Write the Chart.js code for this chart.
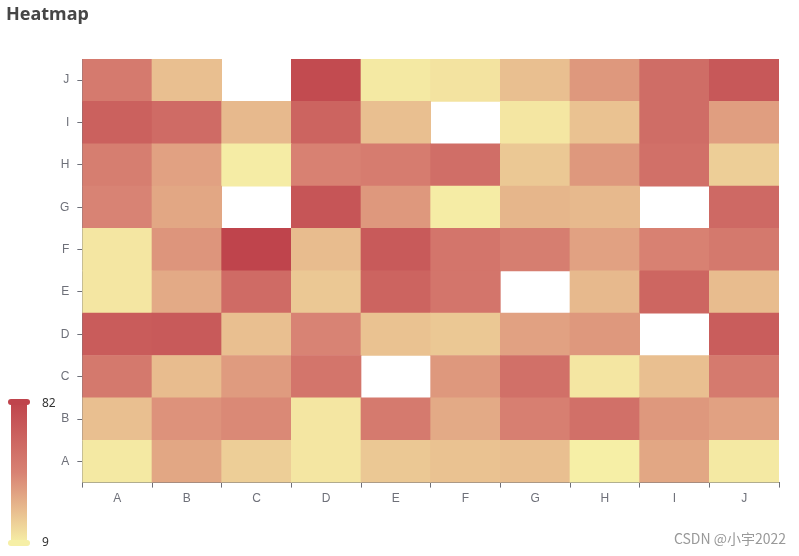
<!DOCTYPE html>
<html>
<head>
<meta charset="utf-8">
<script src="https://cdn.jsdelivr.net/npm/chart.js@4/dist/chart.umd.min.js"></script>
<style>
  body { margin: 0; background: #fff; }
  #wrap { width: 799px; height: 556px; }
</style>
</head>
<body>
<div id="wrap"><canvas id="heat"></canvas></div>
<script>
// categorias y valores (null = celda vacia)
const xLabels = ['A', 'B', 'C', 'D', 'E', 'F', 'G', 'H', 'I', 'J'];
const yLabels = ['A', 'B', 'C', 'D', 'E', 'F', 'G', 'H', 'I', 'J'];
const rowA = [11, 33, 20, 12, 22, 24, 25, 9, 33, 11];
const rowB = [25, 40, 43, 12, 50, 32, 47, 56, 38, 35];
const rowC = [51, 26, 37, 53, null, 38, 56, 12, 25, 50];
const rowD = [68, 69, 25, 45, 24, 22, 35, 38, null, 67];
const rowE = [12, 32, 59, 22, 63, 53, null, 27, 62, 26];
const rowF = [12, 39, 82, 26, 69, 53, 48, 35, 46, 51];
const rowG = [45, 33, null, 72, 38, 10, 28, 27, null, 60];
const rowH = [48, 35, 10, 46, 49, 57, 22, 38, 56, 20];
const rowI = [65, 59, 27, 63, 25, null, 12, 24, 58, 36];
const rowJ = [50, 25, null, 78, 11, 13, 25, 38, 58, 70];
const rows = [rowA, rowB, rowC, rowD, rowE, rowF, rowG, rowH, rowI, rowJ];
const minVal = 9, maxVal = 82;

// escala de color tipo visualMap
const stops = [[246, 239, 166], [216, 130, 115], [191, 68, 76]];
function colorFor(v) {
    if (v === null) return 'rgba(0,0,0,0)';
    let t = (v - minVal) / (maxVal - minVal);
    t = Math.max(0, Math.min(1, t));
    const s = t < 0.5 ? 0 : 1;
    const f = t < 0.5 ? t * 2 : (t - 0.5) * 2;
    const a = stops[s], b = stops[s + 1];
    const c = a.map((x, i) => Math.round(x + (b[i] - x) * f));
    return `rgb(${c[0]},${c[1]},${c[2]})`;
}

const datasets = rows.map((row, i) => ({
    label: yLabels[i],
    data: row.map(() => 1),
    backgroundColor: row.map(colorFor),
    borderWidth: 0,
    barPercentage: 1,
    categoryPercentage: 1
}));

// titulo, visualMap y marca de agua
const decor = {
    id: 'decor',
    afterDraw(chart) {
        const ctx = chart.ctx;
        ctx.save();
        ctx.fillStyle = '#464646';
        ctx.font = 'bold 18px "Microsoft YaHei", "Noto Sans", sans-serif';
        ctx.textBaseline = 'top';
        ctx.fillText('Heatmap', 6, 6);

        const x = 8, y0 = 402, y1 = 543, w = 22;
        const g = ctx.createLinearGradient(0, y0, 0, y1);
        g.addColorStop(0, 'rgb(191,68,76)');
        g.addColorStop(0.5, 'rgb(216,130,115)');
        g.addColorStop(1, 'rgb(246,239,166)');
        ctx.fillStyle = g;
        ctx.fillRect(x + 3, y0, w - 6, y1 - y0);
        ctx.fillStyle = 'rgb(191,68,76)';
        ctx.beginPath(); ctx.roundRect(x, y0 - 3, w, 6, 3); ctx.fill();
        ctx.fillStyle = 'rgb(246,239,166)';
        ctx.beginPath(); ctx.roundRect(x, y1 - 3, w, 6, 3); ctx.fill();

        ctx.fillStyle = '#333';
        ctx.font = '12px "Noto Sans", sans-serif';
        ctx.textBaseline = 'middle';
        ctx.fillText(String(maxVal), 42, y0 + 2);
        ctx.fillText(String(minVal), 42, y1);

        ctx.fillStyle = '#999';
        ctx.font = '14px "Noto Sans CJK SC", sans-serif';
        ctx.textAlign = 'right';
        ctx.fillText('CSDN @小宇2022', 786, 539);
        ctx.restore();
    }
};

new Chart(document.getElementById('heat'), {
    type: 'bar',
    data: { labels: xLabels, datasets: datasets },
    plugins: [decor],
    options: {
        responsive: true,
        maintainAspectRatio: false,
        animation: false,
        layout: { padding: { top: 59, left: 52, right: 20, bottom: 46 } },
        plugins: { legend: { display: false }, tooltip: { enabled: false } },
        scales: {
            x: {
                stacked: true,
                grid: { offset: true, drawOnChartArea: false, color: '#6e7079', tickLength: 5 },
                border: { color: '#6e7079' },
                ticks: { color: '#6e7079', font: { size: 12 }, padding: 4 }
            },
            y: {
                stacked: true,
                min: 0,
                max: 10,
                afterBuildTicks(axis) {
                    axis.ticks = yLabels.map((_, i) => ({ value: i + 0.5 }));
                },
                grid: { drawOnChartArea: false, color: '#6e7079', tickLength: 5 },
                border: { color: '#6e7079' },
                ticks: {
                    color: '#6e7079',
                    font: { size: 12 },
                    padding: 8,
                    callback: v => yLabels[Math.floor(v)]
                }
            }
        }
    }
});
</script>
</body>
</html>
